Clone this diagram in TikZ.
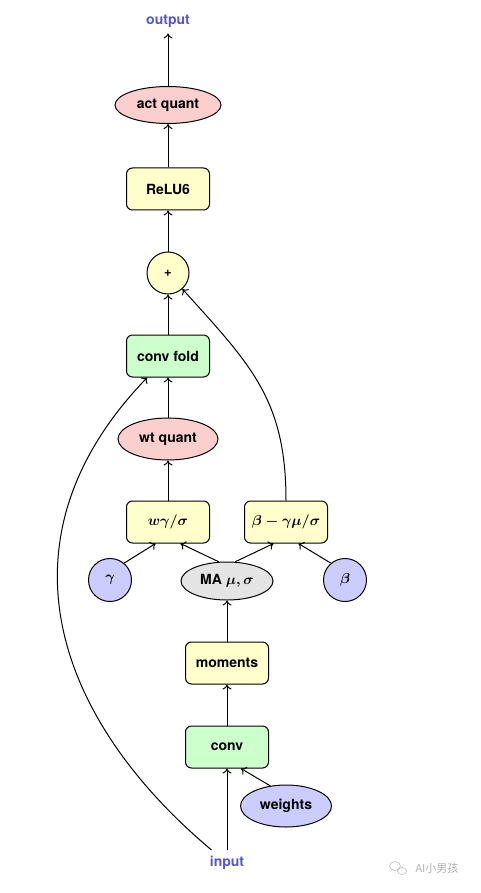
\documentclass[tikz,border=0pt]{standalone}
\usepackage{fontspec}
\setmainfont{TeX Gyre Heros}
\newfontfamily\cjkfont{Noto Sans CJK SC}
\usetikzlibrary{shapes.geometric, arrows.meta}
\definecolor{boxyellow}{HTML}{FFFFCC}
\definecolor{boxgreen}{HTML}{CCFFCC}
\definecolor{boxpink}{HTML}{FCCFCF}
\definecolor{boxblue}{HTML}{CCCCFF}
\definecolor{boxgray}{HTML}{E4E4E4}
\definecolor{iotext}{HTML}{5555CC}
\definecolor{wmgray}{HTML}{B0B0B0}
\tikzset{
  base/.style={draw=black, line width=1pt, inner sep=0pt, font=\fontsize{14}{16}\selectfont\bfseries\boldmath},
  opbox/.style={base, rectangle, rounded corners=6pt, minimum width=83pt, minimum height=42pt},
  yellowbox/.style={opbox, fill=boxyellow},
  greenbox/.style={opbox, fill=boxgreen},
  quantell/.style={base, ellipse, fill=boxpink},
  paramcirc/.style={base, circle, fill=boxblue, minimum size=43pt},
  iolabel/.style={inner sep=6pt, text=iotext, font=\fontsize{14}{16}\selectfont\bfseries},
  arr/.style={-{To[length=5pt, width=9pt, line width=1pt]}, line width=1pt},
}
\begin{document}
\begin{tikzpicture}[x=1pt, y=-1pt]
\useasboundingbox (0,0) rectangle (481,893);
% nodes
\node[iolabel] (output) at (168,21) {output};
\node[quantell, minimum width=106pt, minimum height=37pt] (actq) at (168,105) {act quant};
\node[yellowbox] (relu) at (168,189) {ReLU6};
\node[base, circle, fill=boxyellow, minimum size=42pt, font=\fontsize{13}{15}\selectfont\bfseries] (plus) at (168,273) {+};
\node[greenbox] (convfold) at (168,356) {conv fold};
\node[quantell, minimum width=100pt, minimum height=42pt] (wtq) at (168,439) {wt quant};
\node[yellowbox] (wscale) at (168,522) {$w\gamma/\sigma$};
\node[yellowbox] (bias) at (286,522) {$\beta-\gamma\mu/\sigma$};
\node[paramcirc] (gamma) at (110,580) {$\gamma$};
\node[base, ellipse, fill=boxgray, minimum width=92pt, minimum height=38pt] (ma) at (227,581) {MA $\mu,\sigma$};
\node[paramcirc] (beta) at (345,580) {$\beta$};
\node[yellowbox] (moments) at (227,663) {moments};
\node[greenbox] (conv) at (227,747) {conv};
\node[base, ellipse, fill=boxblue, minimum width=91pt, minimum height=42pt] (weights) at (286,806) {weights};
\node[iolabel] (input) at (227,863) {input};
% connectors
\draw[arr] (input) -- (conv);
\draw[arr] (weights.128) -- (conv.-57);
\draw[arr] (conv) -- (moments);
\draw[arr] (moments) -- (ma);
\draw[arr] (ma.113) -- (wscale.-60);
\draw[arr] (ma.67) -- (bias.-120);
\draw[arr] (gamma.50) -- (wscale.-120);
\draw[arr] (beta.130) -- (bias.-60);
\draw[arr] (wscale) -- (wtq);
\draw[arr] (wtq) -- (convfold);
\draw[arr] (convfold) -- (plus);
\draw[arr] (plus) -- (relu);
\draw[arr] (relu) -- (actq);
\draw[arr] (actq) -- (output);
\draw[arr] (input) to[out=140, in=-134, out looseness=1.1, in looseness=1.2] (convfold);
\draw[arr] (bias) to[out=90, in=-48, looseness=1.1] (plus);
% watermark
\node[draw=wmgray, line width=0.5pt, ellipse, minimum width=11pt, minimum height=9pt, inner sep=0pt] (wmicon1) at (395,866) {};
\node[draw=wmgray, line width=0.5pt, ellipse, minimum width=9pt, minimum height=7pt, inner sep=0pt] (wmicon2) at (402,871) {};
\node[text=wmgray, inner sep=0pt, font=\fontsize{11}{13}\selectfont\cjkfont] (wmtext) at (437,868) {AI小男孩};
\end{tikzpicture}
\end{document}
